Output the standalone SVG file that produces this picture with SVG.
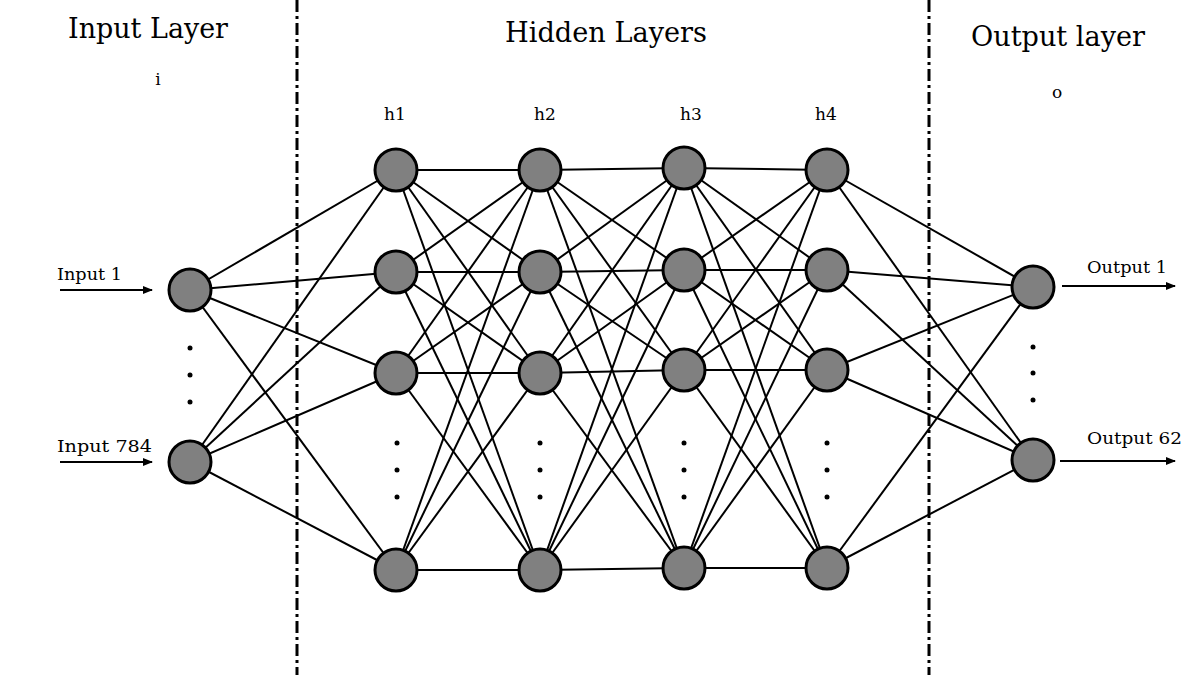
<svg xmlns="http://www.w3.org/2000/svg" width="1200" height="675" viewBox="0 0 1200 675">
<defs>
<marker id="ah" markerWidth="10" markerHeight="8" refX="9" refY="4" orient="auto" markerUnits="userSpaceOnUse"><path d="M0,0 L10,4 L0,8 Z" fill="#000"/></marker>
<style>
text{font-family:"DejaVu Serif","Liberation Serif",serif;fill:#000}
.t{font-size:27px}
.s{font-size:17px}
.l{font-size:16px}
.n{fill:#808080;stroke:#000;stroke-width:3}
.c line{stroke:#000;stroke-width:2}
.div{stroke:#000;stroke-width:3;stroke-dasharray:12 4 3 4}
.arr{stroke:#000;stroke-width:2;marker-end:url(#ah)}
</style>
</defs>
<rect width="1200" height="675" fill="#fff"/>
<line class="div" x1="297" y1="0" x2="297" y2="675"/>
<line class="div" x1="929" y1="0" x2="929" y2="675"/>
<text class="t" x="68" y="38" textLength="160" lengthAdjust="spacingAndGlyphs">Input Layer</text>
<text class="t" x="505" y="42" textLength="202" lengthAdjust="spacingAndGlyphs">Hidden Layers</text>
<text class="t" x="971" y="46" textLength="174" lengthAdjust="spacingAndGlyphs">Output layer</text>
<text class="s" x="158" y="85" text-anchor="middle">i</text>
<text class="s" x="1057" y="98" text-anchor="middle">o</text>
<text class="s" x="395" y="120" text-anchor="middle">h1</text>
<text class="s" x="545" y="120" text-anchor="middle">h2</text>
<text class="s" x="691" y="120" text-anchor="middle">h3</text>
<text class="s" x="826" y="120" text-anchor="middle">h4</text>
<g class="c" id="connectors">
<line x1="190" y1="290" x2="396" y2="170"/><line x1="190" y1="290" x2="396" y2="272"/><line x1="190" y1="290" x2="396" y2="373"/><line x1="190" y1="290" x2="396" y2="570"/>
<line x1="190" y1="462" x2="396" y2="170"/><line x1="190" y1="462" x2="396" y2="272"/><line x1="190" y1="462" x2="396" y2="373"/><line x1="190" y1="462" x2="396" y2="570"/>
<line x1="396" y1="170" x2="540" y2="170"/><line x1="396" y1="170" x2="540" y2="272"/><line x1="396" y1="170" x2="540" y2="373"/><line x1="396" y1="170" x2="540" y2="570"/>
<line x1="396" y1="272" x2="540" y2="170"/><line x1="396" y1="272" x2="540" y2="272"/><line x1="396" y1="272" x2="540" y2="373"/><line x1="396" y1="272" x2="540" y2="570"/>
<line x1="396" y1="373" x2="540" y2="170"/><line x1="396" y1="373" x2="540" y2="272"/><line x1="396" y1="373" x2="540" y2="373"/><line x1="396" y1="373" x2="540" y2="570"/>
<line x1="396" y1="570" x2="540" y2="170"/><line x1="396" y1="570" x2="540" y2="272"/><line x1="396" y1="570" x2="540" y2="373"/><line x1="396" y1="570" x2="540" y2="570"/>
<line x1="540" y1="170" x2="684" y2="168"/><line x1="540" y1="170" x2="684" y2="270"/><line x1="540" y1="170" x2="684" y2="370"/><line x1="540" y1="170" x2="684" y2="568"/>
<line x1="540" y1="272" x2="684" y2="168"/><line x1="540" y1="272" x2="684" y2="270"/><line x1="540" y1="272" x2="684" y2="370"/><line x1="540" y1="272" x2="684" y2="568"/>
<line x1="540" y1="373" x2="684" y2="168"/><line x1="540" y1="373" x2="684" y2="270"/><line x1="540" y1="373" x2="684" y2="370"/><line x1="540" y1="373" x2="684" y2="568"/>
<line x1="540" y1="570" x2="684" y2="168"/><line x1="540" y1="570" x2="684" y2="270"/><line x1="540" y1="570" x2="684" y2="370"/><line x1="540" y1="570" x2="684" y2="568"/>
<line x1="684" y1="168" x2="827" y2="170"/><line x1="684" y1="168" x2="827" y2="270"/><line x1="684" y1="168" x2="827" y2="370"/><line x1="684" y1="168" x2="827" y2="568"/>
<line x1="684" y1="270" x2="827" y2="170"/><line x1="684" y1="270" x2="827" y2="270"/><line x1="684" y1="270" x2="827" y2="370"/><line x1="684" y1="270" x2="827" y2="568"/>
<line x1="684" y1="370" x2="827" y2="170"/><line x1="684" y1="370" x2="827" y2="270"/><line x1="684" y1="370" x2="827" y2="370"/><line x1="684" y1="370" x2="827" y2="568"/>
<line x1="684" y1="568" x2="827" y2="170"/><line x1="684" y1="568" x2="827" y2="270"/><line x1="684" y1="568" x2="827" y2="370"/><line x1="684" y1="568" x2="827" y2="568"/>
<line x1="827" y1="170" x2="1033" y2="287"/><line x1="827" y1="170" x2="1033" y2="460"/>
<line x1="827" y1="270" x2="1033" y2="287"/><line x1="827" y1="270" x2="1033" y2="460"/>
<line x1="827" y1="370" x2="1033" y2="287"/><line x1="827" y1="370" x2="1033" y2="460"/>
<line x1="827" y1="568" x2="1033" y2="287"/><line x1="827" y1="568" x2="1033" y2="460"/>
<line class="arr" x1="60" y1="290" x2="152" y2="290"/>
<line class="arr" x1="60" y1="462" x2="152" y2="462"/>
<line class="arr" x1="1062" y1="286" x2="1175" y2="286"/>
<line class="arr" x1="1060" y1="461" x2="1175" y2="461"/>
</g>
<text class="l" x="57" y="280" textLength="65" lengthAdjust="spacingAndGlyphs">Input 1</text>
<text class="l" x="57" y="452" textLength="95" lengthAdjust="spacingAndGlyphs">Input 784</text>
<text class="l" x="1087" y="273" textLength="80" lengthAdjust="spacingAndGlyphs">Output 1</text>
<text class="l" x="1087" y="444" textLength="95" lengthAdjust="spacingAndGlyphs">Output 62</text>
<g id="in1"><circle class="n" cx="190" cy="290" r="21"/></g>
<g id="in2"><circle class="n" cx="190" cy="462" r="21"/></g>
<g id="h1"><circle class="n" cx="396" cy="170" r="21"/><circle class="n" cx="396" cy="272" r="21"/><circle class="n" cx="396" cy="373" r="21"/><circle class="n" cx="396" cy="570" r="21"/></g>
<g id="h2"><circle class="n" cx="540" cy="170" r="21"/><circle class="n" cx="540" cy="272" r="21"/><circle class="n" cx="540" cy="373" r="21"/><circle class="n" cx="540" cy="570" r="21"/></g>
<g id="h3"><circle class="n" cx="684" cy="168" r="21"/><circle class="n" cx="684" cy="270" r="21"/><circle class="n" cx="684" cy="370" r="21"/><circle class="n" cx="684" cy="568" r="21"/></g>
<g id="h4"><circle class="n" cx="827" cy="170" r="21"/><circle class="n" cx="827" cy="270" r="21"/><circle class="n" cx="827" cy="370" r="21"/><circle class="n" cx="827" cy="568" r="21"/></g>
<g id="out1"><circle class="n" cx="1033" cy="287" r="21"/></g>
<g id="out2"><circle class="n" cx="1033" cy="460" r="21"/></g>
<g id="dots" fill="#000">
<circle cx="190" cy="348" r="2.5"/><circle cx="190" cy="375" r="2.5"/><circle cx="190" cy="402" r="2.5"/>
<circle cx="397" cy="443" r="2.5"/><circle cx="397" cy="470" r="2.5"/><circle cx="397" cy="497" r="2.5"/>
<circle cx="540" cy="443" r="2.5"/><circle cx="540" cy="470" r="2.5"/><circle cx="540" cy="497" r="2.5"/>
<circle cx="684" cy="443" r="2.5"/><circle cx="684" cy="470" r="2.5"/><circle cx="684" cy="497" r="2.5"/>
<circle cx="827" cy="443" r="2.5"/><circle cx="827" cy="470" r="2.5"/><circle cx="827" cy="497" r="2.5"/>
<circle cx="1033" cy="347" r="2.5"/><circle cx="1033" cy="373" r="2.5"/><circle cx="1033" cy="400" r="2.5"/>
</g>
</svg>
